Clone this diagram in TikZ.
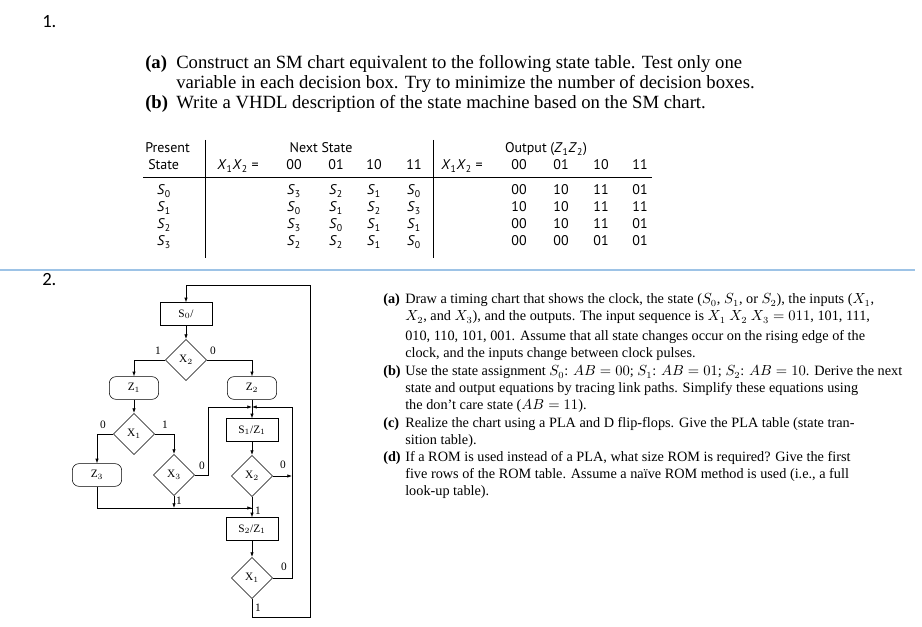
\documentclass[tikz,border=0pt]{standalone}
\usepackage{fontspec}
\setmainfont{Liberation Serif}
\newfontfamily\tabfont{PT Sans}
\newfontfamily\numfont{Carlito}
\newcommand\tS[1]{\textit{S}\textsubscript{#1}}
\newcommand\tX[1]{\textit{X}\textsubscript{#1}}
\newcommand\tZ[1]{\textit{Z}\textsubscript{#1}}
\usetikzlibrary{shapes.geometric,arrows.meta}
\begin{document}
\begin{tikzpicture}[x=0.75pt,y=-0.75pt,
  st/.style={draw,minimum width=39pt,minimum height=17pt,inner sep=0pt,font=\fontsize{8.5}{9}\selectfont},
  co/.style={draw,rounded corners=5pt,minimum width=37pt,minimum height=17pt,inner sep=0pt,font=\fontsize{8.5}{9}\selectfont},
  dec/.style={draw,diamond,minimum width=31pt,minimum height=31pt,inner sep=0pt,font=\fontsize{8.5}{9}\selectfont},
  lb/.style={font=\fontsize{8.5}{9}\selectfont,inner sep=1pt},
  ar/.style={-{Latex[length=3.5pt,width=2.5pt]}},
  ln/.style={line width=0.5pt},
  tx/.style={anchor=base west,inner sep=0pt,font=\fontsize{10.7}{12}\selectfont},
  tt/.style={anchor=base west,inner sep=0pt,font=\fontsize{14}{15}\selectfont},
  tb/.style={anchor=base,inner sep=0pt,font=\tabfont\fontsize{10.5}{12}\selectfont},
  tbl/.style={anchor=base west,inner sep=0pt,font=\tabfont\fontsize{10.5}{12}\selectfont}]
\useasboundingbox (0,0) rectangle (922,627);
% numbers and separator
\node[anchor=base west,inner sep=0pt,font=\numfont\fontsize{14}{16}\selectfont] (n1) at (42,28) {1.};
\node[anchor=base west,inner sep=0pt,font=\numfont\fontsize{14}{16}\selectfont] (n2) at (42,286) {2.};
\draw[color={rgb,255:red,157;green,195;blue,230},line width=0.8pt] (0,270) -- (915,270);
% problem 1 text
\node[tt] (a1l) at (145,69) {\textbf{(a)}};
\node[tt] (a1) at (176,69) {Construct an SM chart equivalent to the following state table. Test only one};
\node[tt] (a2) at (176,89) {variable in each decision box. Try to minimize the number of decision boxes.};
\node[tt] (a3l) at (145,109) {\textbf{(b)}};
\node[tt] (a3) at (176,109) {Write a VHDL description of the state machine based on the SM chart.};
% table
\draw[ln] (205,140) -- (205,258);
\draw[ln] (433,140) -- (433,258);
\draw[ln] (143,177) -- (652,177);
\node[tbl] (h1) at (145,153) {Present};
\node[tbl] (h2) at (148,170) {State};
\node[tb] (h3) at (321,153) {Next State};
\node[tb] (h4) at (546,153) {Output (\tZ{1}\tZ{2})};
\node[tbl] (h5) at (217,170) {\tX{1}\tX{2} =};
\node[tbl] (h6) at (441,170) {\tX{1}\tX{2} =};
\foreach \t/\x [count=\i] in {00/294,01/336,10/374,11/414}{\node[tb] (ns\i) at (\x,170) {\t};}
\foreach \t/\x [count=\i] in {00/519,01/561,10/601,11/640}{\node[tb] (os\i) at (\x,170) {\t};}
\foreach \y [count=\r from 0] in {195,212,229,246}{\node[tb] (ps\r) at (164,\y) {\tS{\r}};}
\foreach \row [count=\r] in {{3,2,1,0},{0,1,2,3},{3,0,1,1},{2,2,1,0}}{
  \foreach \v [count=\c] in \row {
    \pgfmathsetmacro{\xx}{{294,336,374,414}[\c-1]}
    \pgfmathsetmacro{\yy}{{195,212,229,246}[\r-1]}
    \node[tb] (n\r\c) at (\xx,\yy) {\tS{\v}};}}
\foreach \row [count=\r] in {{00,10,11,01},{10,10,11,11},{00,10,11,01},{00,00,01,01}}{
  \foreach \v [count=\c] in \row {
    \pgfmathsetmacro{\xx}{{519,561,601,640}[\c-1]}
    \pgfmathsetmacro{\yy}{{195,212,229,246}[\r-1]}
    \node[tb] (o\r\c) at (\xx,\yy) {\v};}}
% SM chart
\node[st] (s0) at (186,314) {S$_0$/};
\node[dec] (d1) at (186,360) {X$_2$};
\node[co] (z1) at (134,388) {Z$_1$};
\node[co] (z2) at (252,388) {Z$_2$};
\node[dec] (d2) at (134,434) {X$_1$};
\node[co] (z3) at (97,475) {Z$_3$};
\node[dec] (d3) at (174,475) {X$_3$};
\node[st] (s1) at (252,430) {S$_1$/Z$_1$};
\node[dec] (d4) at (252,476) {X$_2$};
\node[st] (s2) at (252,529) {S$_2$/Z$_1$};
\node[dec] (d5) at (252,578) {X$_1$};
\coordinate (m1) at (252,407);
\coordinate (m2) at (252,508);
\coordinate (r1) at (292,476);
\coordinate (t1) at (186,285);
\draw[ln,ar] (d5.south) -- (252,617) -- (310,617) -- (310,285) -- (t1) -- (s0.north);
\draw[ln,ar] (s0) -- (d1);
\draw[ln,ar] (d1.west) -| (z1.north);
\draw[ln,ar] (d1.east) -| (z2.north);
\node[lb] (l1) at (158,351) {1};
\node[lb] (l2) at (213,351) {0};
\draw[ln,ar] (z1) -- (d2);
\draw[ln,ar] (d2.west) -| (z3.north);
\draw[ln,ar] (d2.east) -| (d3.north);
\node[lb] (l3) at (103,425) {0};
\node[lb] (l4) at (165,425) {1};
\draw[ln,ar] (z2.south) -- (s1.north);
\draw[ln,ar] (d3.east) -- (208,475) -- (208,407) -- (m1);
\node[lb] (l5) at (202,466) {0};
\draw[ln,ar] (d5.east) -- (292,578) -- (292,407) -- (m1);
\draw[ln,ar] (d4.east) -- (r1);
\node[lb] (l6) at (283,465) {0};
\node[lb] (l7) at (284,567) {0};
\draw[ln,ar] (s1) -- (d4);
\draw[ln] (z3.south) -- (97,508) -- (m2);
\draw[ln,ar] (d3.south) -- (174,508);
\node[lb] (l8) at (179,501) {1};
\draw[ln,ar] (97,508) -- (m2);
\draw[ln,ar] (d4.south) -- (s2.north);
\node[lb] (l9) at (258,511) {1};
\draw[ln,ar] (s2) -- (d5);
\node[lb] (l10) at (258,608) {1};
% problem 2 text
\node[tx] (b1) at (383,304) {\textbf{(a)}};
\node[tx] (b1t) at (405,304) {Draw a timing chart that shows the clock, the state ($S_0$, $S_1$, or $S_2$), the inputs ($X_1$,};
\node[tx] (b2) at (405,321) {$X_2$, and $X_3$), and the outputs. The input sequence is $X_1$ $X_2$ $X_3 = 011$, 101, 111,};
\node[tx] (b3) at (405,341) {010, 110, 101, 001. Assume that all state changes occur on the rising edge of the};
\node[tx] (b4) at (405,358) {clock, and the inputs change between clock pulses.};
\node[tx] (b5) at (383,376) {\textbf{(b)}};
\node[tx] (b5t) at (405,376) {Use the state assignment $S_0$: $AB = 00$; $S_1$: $AB = 01$; $S_2$: $AB = 10$. Derive the next};
\node[tx] (b6) at (405,393) {state and output equations by tracing link paths. Simplify these equations using};
\node[tx] (b7) at (405,410) {the don't care state ($AB = 11$).};
\node[tx] (b8) at (383,428) {\textbf{(c)}};
\node[tx] (b8t) at (405,428) {Realize the chart using a PLA and D flip-flops. Give the PLA table (state tran-};
\node[tx] (b9) at (405,445) {sition table).};
\node[tx] (b10) at (383,462) {\textbf{(d)}};
\node[tx] (b10t) at (405,462) {If a ROM is used instead of a PLA, what size ROM is required? Give the first};
\node[tx] (b11) at (405,479) {five rows of the ROM table. Assume a naïve ROM method is used (i.e., a full};
\node[tx] (b12) at (405,496) {look-up table).};
\end{tikzpicture}
\end{document}
